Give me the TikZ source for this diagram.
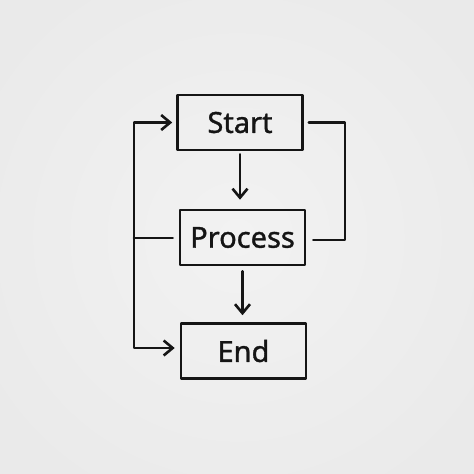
\documentclass[tikz,border=0pt]{standalone}
\usepackage{fontspec}
\setmainfont[FakeBold=1.2]{Noto Sans}
\usepackage{xcolor}
\usepackage{tikz}
\usetikzlibrary{calc, arrows.meta, positioning}

\definecolor{board}{HTML}{F2F2F2}
\definecolor{boardedge}{HTML}{EAEAEA}
\definecolor{ink}{HTML}{151515}

\begin{document}
\begin{tikzpicture}[x=1pt, y=-1pt, line width=2.6pt, line join=round, line cap=round,
    >={Straight Barb[length=9pt, width=15pt, line width=2.6pt]},
    stepbox/.style={draw=ink, minimum width=125pt, minimum height=55pt, inner sep=0pt, font=\fontsize{29}{32}\selectfont\bfseries, text=ink},
    link/.style={draw=ink},
    arrow/.style={draw=ink, ->}]
    % 1. Nền bảng trắng
    \useasboundingbox (0,0) rectangle (474,474);
    \begin{scope}
        \clip (0,0) rectangle (474,474);
        \shade[inner color=board, outer color=boardedge] (-60,-60) rectangle (534,534);
    \end{scope}

    % 2. Các khối
    \node[stepbox] (Start) at (240,122.5) {Start};
    \node[stepbox] (Process) at (242.5,237.5) {Process};
    \node[stepbox] (End) at (243.5,351) {End};

    % 3. Mũi tên đi xuống
    \draw[arrow, shorten <=3pt, shorten >=9pt] (Start.south) -- (Start.south |- Process.north);
    \draw[arrow, shorten <=5pt, shorten >=7pt] (Process.south) -- (Process.south |- End.north);

    % 4. Vòng phải từ Start về Process
    \draw[link, shorten <=5pt, shorten >=7pt] (Start.east) -- ++(41,0) |- ([yshift=-2.5pt]Process.east);

    % 5. Nhánh trái
    \coordinate (busL) at (134,238);
    \draw[link, shorten >=6pt] (busL) -- (Process.west |- busL);
    \draw[arrow, shorten >=4pt] (busL) |- (Start.west);
    \draw[arrow, shorten >=5pt] (busL) |- ([yshift=3pt]End.west);

\end{tikzpicture}
\end{document}
